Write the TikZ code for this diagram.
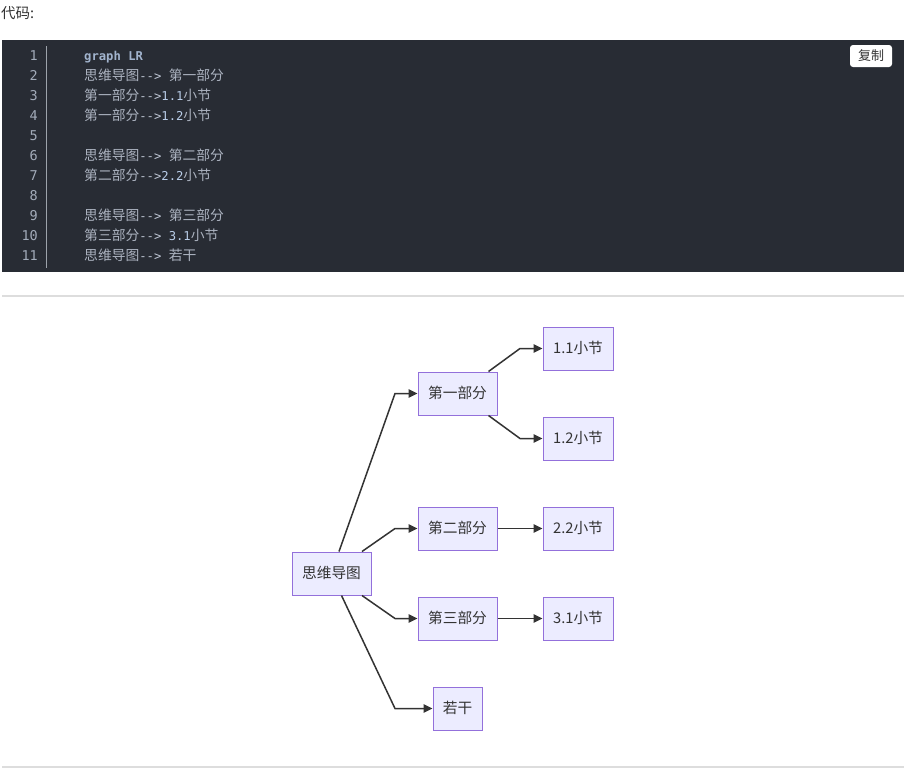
\documentclass[tikz,border=0pt]{standalone}
\usepackage{fontspec}
\setmainfont{Liberation Sans}
\newfontfamily\cjk{Noto Sans CJK SC}
\newfontfamily\mono{DejaVu Sans Mono}
\usetikzlibrary{arrows.meta}
\definecolor{codebg}{HTML}{282C34}
\definecolor{codefg}{HTML}{ABB2BF}
\definecolor{kwcol}{HTML}{A2B4CE}
\definecolor{numcol}{HTML}{B9CDE8}
\definecolor{arrowcol}{HTML}{C0C8D6}
\definecolor{lnumcol}{HTML}{A3ACBA}
\definecolor{sepcol}{HTML}{9DA3AB}
\definecolor{nodefill}{HTML}{ECECFF}
\definecolor{nodeborder}{HTML}{9370DB}
\definecolor{edgecol}{HTML}{333333}
\definecolor{textdark}{HTML}{333333}
\definecolor{rulecol}{HTML}{DDDDDD}
\newcommand\cz[1]{{\cjk\fontsize{13.8}{15}\selectfont #1}}
\newcommand\mz[1]{{\mono\fontsize{12.2}{14}\selectfont #1}}
\newcommand\arw{{\color{arrowcol}\mz{-{}-{}>}}}
\newcommand\nm[1]{{\color{numcol}\mz{#1}}}
\begin{document}
\begin{tikzpicture}[x=1pt,y=-1pt,
  box/.style={draw=nodeborder, fill=nodefill, line width=1pt, minimum height=43pt,
    inner sep=0pt, font=\cjk\fontsize{14.7}{16}\selectfont, text=textdark,
    text height=12pt, text depth=2pt},
  edge/.style={draw=edgecol, line width=1.5pt, -{Triangle[length=9pt,width=8.5pt]}},
  codeline/.style={anchor=west, inner sep=0pt, text=codefg, text height=10pt, text depth=3pt},
  lnum/.style={anchor=east, inner sep=0pt, text=lnumcol, font=\mono\fontsize{13.5}{15}\selectfont,
    text height=10pt, text depth=3pt}]
\useasboundingbox (0,0) rectangle (918,782);
\fill[white] (0,0) rectangle (918,782);

% heading
\node[anchor=west, inner sep=0pt, text=textdark, font=\cjk\fontsize{14.5}{16}\selectfont] (title) at (1,13) {代码:};

% code block
\node[fill=codebg, minimum width=902pt, minimum height=232pt, inner sep=0pt, anchor=north west] (code) at (2,40) {};
\draw[sepcol, line width=1pt] (46,46) -- (46,268);
\foreach \i in {1,...,11} {
  \node[lnum] (n\i) at (38,{57+20*(\i-1)}) {\i};
}
\node[codeline] (l1) at (84,57) {{\color{kwcol}\mz{\bfseries graph LR}}};
\node[codeline] (l2) at (84,77) {\cz{思维导图}\arw\mz{ }\cz{第一部分}};
\node[codeline] (l3) at (84,97) {\cz{第一部分}\arw\nm{1.1}\cz{小节}};
\node[codeline] (l4) at (84,117) {\cz{第一部分}\arw\nm{1.2}\cz{小节}};
\node[codeline] (l6) at (84,157) {\cz{思维导图}\arw\mz{ }\cz{第二部分}};
\node[codeline] (l7) at (84,177) {\cz{第二部分}\arw\nm{2.2}\cz{小节}};
\node[codeline] (l9) at (84,217) {\cz{思维导图}\arw\mz{ }\cz{第三部分}};
\node[codeline] (l10) at (84,237) {\cz{第三部分}\arw\mz{ }\nm{3.1}\cz{小节}};
\node[codeline] (l11) at (84,257) {\cz{思维导图}\arw\mz{ }\cz{若干}};

% copy button
\node[fill=white, rounded corners=3pt, minimum width=42pt, minimum height=22pt, inner sep=0pt,
  font=\cjk\fontsize{13}{14}\selectfont, text=textdark] (copy) at (871,56) {复制};

% rules
\draw[rulecol, line width=1.2pt] (2,296) -- (904,296);
\draw[rulecol, line width=1.2pt] (2,767) -- (904,767);

% diagram
\node[box, minimum width=79pt] (root) at (331.5,573.5) {思维导图};
\node[box, minimum width=79pt] (p1) at (457.5,393.5) {第一部分};
\node[box, minimum width=79pt] (p2) at (457.5,528.5) {第二部分};
\node[box, minimum width=79pt] (p3) at (457.5,618.5) {第三部分};
\node[box, minimum width=49pt] (p4) at (457.5,708.5) {若干};
\node[box, minimum width=70pt] (s11) at (578,348.5) {1.1小节};
\node[box, minimum width=70pt] (s12) at (578,438.5) {1.2小节};
\node[box, minimum width=70pt] (s22) at (578,528.5) {2.2小节};
\node[box, minimum width=70pt] (s31) at (578,618.5) {3.1小节};

\coordinate (k1) at (395,0);
\coordinate (k2) at (520,0);
\draw[edge] ([xshift=7.5pt]root.north) -- (k1 |- p1.west) -- (p1.west);
\draw[edge] ([xshift=30.5pt]root.north) -- (k1 |- p2.west) -- (p2.west);
\draw[edge] ([xshift=30.5pt]root.south) -- (k1 |- p3.west) -- (p3.west);
\draw[edge] ([xshift=10pt]root.south) -- (k1 |- p4.west) -- (p4.west);
\draw[edge] ([xshift=31pt]p1.north) -- (k2 |- s11.west) -- (s11.west);
\draw[edge] ([xshift=31pt]p1.south) -- (k2 |- s12.west) -- (s12.west);
\draw[edge] (p2) -- (s22);
\draw[edge] (p3) -- (s31);
\end{tikzpicture}
\end{document}
